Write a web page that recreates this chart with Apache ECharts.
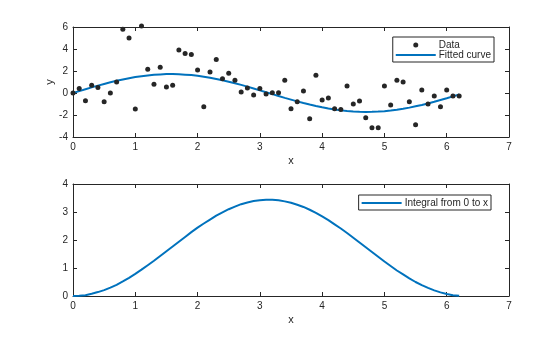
<!DOCTYPE html>
<html>
<head>
<meta charset="utf-8">
<script src="https://cdn.jsdelivr.net/npm/echarts@6/dist/echarts.min.js"></script>
<style>
  html, body { margin: 0; padding: 0; background: #fff; }
  #chart { width: 560px; height: 337px; }
</style>
</head>
<body>
<div id="chart"></div>
<script>
// Sample positions shared by both panels
const xs = [0.0,0.1,0.2,0.3,0.4,0.5,0.6,0.7,0.8,0.9,1.0,1.1,1.2,1.3,1.4,1.5,1.6,1.7,1.8,1.9,2.0,2.1,2.2,2.3,2.4,2.5,2.6,2.7,2.8,2.9,3.0,3.1,3.2,3.3,3.4,3.5,3.6,3.7,3.8,3.9,4.0,4.1,4.2,4.3,4.4,4.5,4.6,4.7,4.8,4.9,5.0,5.1,5.2,5.3,5.4,5.5,5.6,5.7,5.8,5.9,6.0,6.1,6.2];

// Noisy measurements
const dataY = [0.0,0.4,-0.7,0.7,0.5,-0.8,0.0,1.0,5.8,5.0,-1.45,6.1,2.15,0.8,2.35,0.55,0.7,3.9,3.6,3.5,2.1,-1.25,1.9,3.05,1.3,1.8,1.17,0.1,0.45,-0.18,0.4,-0.1,0.03,0.03,1.17,-1.44,-0.8,0.18,-2.34,1.62,-0.63,-0.45,-1.44,-1.5,0.63,-1.0,-0.72,-2.25,-3.15,-3.15,0.63,-1.08,1.17,1.0,-0.8,-2.88,0.27,-1.0,-0.27,-1.26,0.27,-0.27,-0.27];

// Fitted curve
const fitY = [0,0.17,0.34,0.51,0.67,0.82,0.97,1.11,1.23,1.35,1.45,1.53,1.60,1.66,1.69,1.72,1.72,1.71,1.67,1.63,1.56,1.48,1.39,1.28,1.16,1.03,0.89,0.74,0.58,0.41,0.24,0.07,-0.10,-0.27,-0.44,-0.60,-0.76,-0.91,-1.05,-1.18,-1.30,-1.41,-1.50,-1.58,-1.64,-1.68,-1.71,-1.72,-1.71,-1.69,-1.65,-1.59,-1.52,-1.43,-1.33,-1.21,-1.09,-0.95,-0.80,-0.64,-0.48,-0.31,-0.14];

// Running integral of the fitted curve
const intY = [0,0.01,0.03,0.08,0.14,0.21,0.30,0.40,0.52,0.65,0.79,0.94,1.10,1.26,1.43,1.60,1.77,1.94,2.11,2.28,2.44,2.59,2.73,2.87,2.99,3.10,3.19,3.28,3.34,3.39,3.42,3.44,3.44,3.42,3.38,3.33,3.26,3.18,3.08,2.97,2.84,2.71,2.56,2.41,2.25,2.08,1.91,1.74,1.57,1.40,1.23,1.07,0.91,0.77,0.63,0.50,0.39,0.29,0.20,0.13,0.07,0.03,0.01];

// Axis ranges and ticks
const xTicks = [0, 7, 1];
const topYTicks = [-4, 6, 2];
const botYTicks = [0, 4, 1];

const ink = '#262626';
const blue = '#0072BD';
const font = 'Liberation Sans, Arial, Helvetica, sans-serif';

function pairs(a, b) { return a.map((v, i) => [v, b[i]]); }

function axisBase(range, showLabels) {
  return {
    type: 'value', min: range[0], max: range[1], interval: range[2],
    axisLine: { show: true, onZero: false, lineStyle: { color: ink, width: 1 } },
    axisTick: { show: true, inside: true, length: 4, lineStyle: { color: ink } },
    axisLabel: { show: showLabels, color: ink, fontSize: 10, fontFamily: font, margin: 5 },
    splitLine: { show: false }
  };
}

function xAxes(grid) {
  const bottom = Object.assign(axisBase(xTicks, true), {
    gridIndex: grid, position: 'bottom',
    name: 'x', nameLocation: 'middle', nameGap: 18,
    nameTextStyle: { color: ink, fontSize: 11, fontFamily: font }
  });
  const top = Object.assign(axisBase(xTicks, false), { gridIndex: grid, position: 'top' });
  return [bottom, top];
}

function yAxes(grid, range, name) {
  const left = Object.assign(axisBase(range, true), { gridIndex: grid, position: 'left' });
  if (name) Object.assign(left, {
    name: name, nameLocation: 'middle', nameGap: 18, nameMoveOverlap: false,
    nameTextStyle: { color: ink, fontSize: 11, fontFamily: font }
  });
  const right = Object.assign(axisBase(range, false), { gridIndex: grid, position: 'right' });
  return [left, right];
}

// Legend icons: a dot centred in a wide box, and a horizontal line
const dotIcon = 'path://M0,-4.5L0,-4.5M40,4.5L40,4.5M20,-2.5A2.5,2.5,0,1,1,20,2.5A2.5,2.5,0,1,1,20,-2.5Z';
const lineIcon = 'path://M0,-1L40,-1L40,1L0,1Z';

const legendText = { color: ink, fontSize: 10, fontFamily: font, lineHeight: 9, padding: [0, 0, 0, -2] };

const chart = echarts.init(document.getElementById('chart'), null, { renderer: 'canvas' });
chart.setOption({
  animation: false,
  backgroundColor: '#fff',
  grid: [
    { left: 73, right: 51, top: 27, height: 110 },
    { left: 73, right: 51, top: 184, height: 112 }
  ],
  xAxis: [...xAxes(0), ...xAxes(1)],
  yAxis: [...yAxes(0, topYTicks, 'y'), ...yAxes(1, botYTicks, null)],
  legend: [
    {
      right: 66, top: 37, orient: 'vertical',
      itemWidth: 40, itemHeight: 9, itemGap: 0,
      padding: [3, 3, 2, 3],
      backgroundColor: '#fff', borderColor: ink, borderWidth: 1,
      textStyle: legendText,
      data: [
        { name: 'Data', icon: dotIcon },
        { name: 'Fitted curve', icon: lineIcon }
      ]
    },
    {
      right: 69, top: 195, orient: 'vertical',
      itemWidth: 40, itemHeight: 9,
      padding: [3, 3, 2, 3],
      backgroundColor: '#fff', borderColor: ink, borderWidth: 1,
      textStyle: legendText,
      data: [{ name: 'Integral from 0 to x', icon: lineIcon }]
    }
  ],
  series: [
    {
      name: 'Data', type: 'scatter', xAxisIndex: 0, yAxisIndex: 0,
      data: pairs(xs, dataY), symbol: 'circle', symbolSize: 5, clip: false,
      itemStyle: { color: ink, opacity: 1 }, z: 3
    },
    {
      name: 'Fitted curve', type: 'line', xAxisIndex: 0, yAxisIndex: 0,
      data: pairs(xs, fitY), showSymbol: false, symbol: 'none',
      lineStyle: { color: blue, width: 2 }, itemStyle: { color: blue }, z: 2
    },
    {
      name: 'Integral from 0 to x', type: 'line', xAxisIndex: 2, yAxisIndex: 2,
      data: pairs(xs, intY), showSymbol: false, symbol: 'none',
      lineStyle: { color: blue, width: 2 }, itemStyle: { color: blue }
    }
  ]
});
</script>
</body>
</html>
